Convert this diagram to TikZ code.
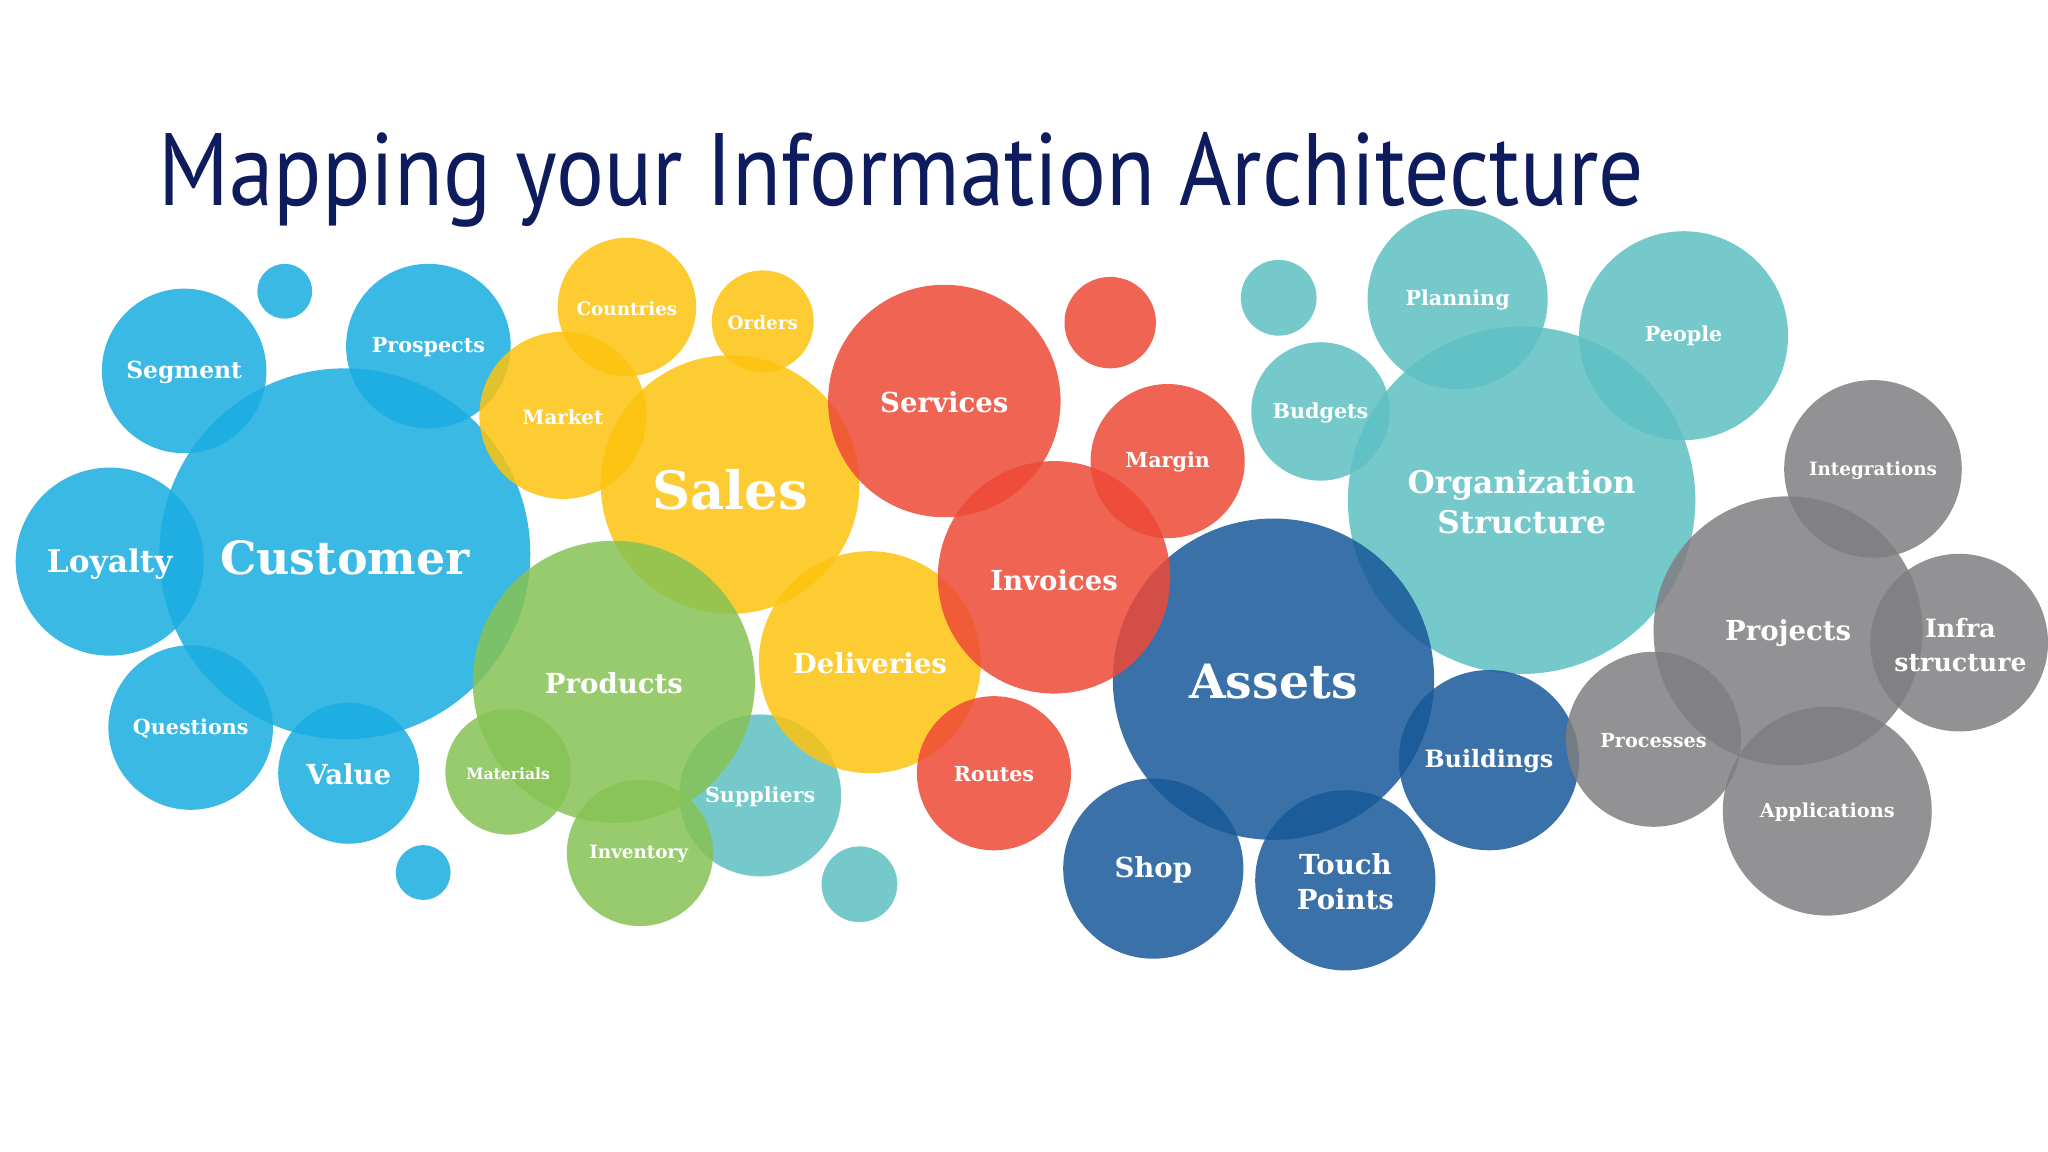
\documentclass[tikz,border=0pt]{standalone}
\usepackage{fontspec}
\usepackage{tikz}
\usepackage{xcolor}

\newfontfamily\bubfont{DejaVu Serif}
\newfontfamily\titlefont{PT Sans}[FakeStretch=0.87]

\definecolor{navy}{RGB}{14,28,94}
\definecolor{skyb}{RGB}{25,173,225}
\definecolor{sun}{RGB}{253,195,15}
\definecolor{leaf}{RGB}{134,195,85}
\definecolor{aqua}{RGB}{94,192,195}
\definecolor{coral}{RGB}{238,73,55}
\definecolor{deep}{RGB}{23,89,153}
\definecolor{slate}{RGB}{127,126,129}

\tikzset{
  bub/.style={circle, fill=#1, fill opacity=0.85, inner sep=0pt},
  rad/.style={minimum size=#1*0.2mm},
  lbl/.style={text=white, align=center, inner sep=0pt},
  fs/.style={font=\bubfont\bfseries\fontsize{#1}{#1}\selectfont}
}

\begin{document}
\begin{tikzpicture}[x=0.1mm,y=-0.1mm]
\useasboundingbox (0,0) rectangle (1568,882);
\fill[white] (0,0) rectangle (1568,882);

\node[anchor=base west, text=navy, font=\titlefont\fontsize{22.4}{24}\selectfont] (title) at (109,157) {Mapping your Information Architecture};

% customer
\node[bub=skyb, rad=21] (dotA) at (218,223) {};
\node[bub=skyb, rad=63] (seg) at (141,284) {};
\node[bub=skyb, rad=63] (pros) at (328,265) {};
\node[bub=skyb, rad=142] (cust) at (264,424) {};
\node[bub=skyb, rad=72] (loy) at (84,430) {};
\node[bub=skyb, rad=63] (ques) at (146,557) {};
\node[bub=skyb, rad=54] (val) at (267,592) {};
\node[bub=skyb, rad=21] (dotB) at (324,668) {};

% organization
\node[bub=aqua, rad=62] (supp) at (582,609) {};
\node[bub=aqua, rad=29] (dotC) at (658,677) {};
\node[bub=aqua, rad=29] (dotD) at (979,228) {};
\node[bub=aqua, rad=53] (budg) at (1011,315) {};
\node[bub=aqua, rad=69] (plan) at (1116,229) {};
\node[bub=aqua, rad=80] (peop) at (1289,257) {};
\node[bub=aqua, rad=133] (org) at (1165,383) {};

% sales
\node[bub=sun, rad=53] (coun) at (480,235) {};
\node[bub=sun, rad=39] (ord) at (584,246) {};
\node[bub=sun, rad=64] (mark) at (431,318) {};
\node[bub=sun, rad=99] (sales) at (559,371) {};
\node[bub=sun, rad=85] (deliv) at (666,507) {};

% products
\node[bub=leaf, rad=108] (prod) at (470,522) {};
\node[bub=leaf, rad=48] (mat) at (389,591) {};
\node[bub=leaf, rad=56] (inv) at (490,653) {};

% assets
\node[bub=deep, rad=123] (assets) at (975,520) {};
\node[bub=deep, rad=69] (shop) at (883,665) {};
\node[bub=deep, rad=69] (touch) at (1030,674) {};
\node[bub=deep, rad=69] (build) at (1140,582) {};

% services
\node[bub=coral, rad=89] (serv) at (723,307) {};
\node[bub=coral, rad=35] (dotE) at (850,247) {};
\node[bub=coral, rad=59] (marg) at (894,353) {};
\node[bub=coral, rad=89] (invo) at (807,442) {};
\node[bub=coral, rad=59] (rout) at (761,592) {};

% projects
\node[bub=slate, rad=68] (integ) at (1434,359) {};
\node[bub=slate, rad=103] (proj) at (1369,483) {};
\node[bub=slate, rad=68] (infra) at (1500,492) {};
\node[bub=slate, rad=67] (proc) at (1266,566) {};
\node[bub=slate, rad=80] (appl) at (1399,621) {};

% labels
\node[lbl, fs=10] (cust-t) at (264,427) {Customer};
\node[lbl, fs=5.1] (seg-t) at (141,285) {Segment};
\node[lbl, fs=4.5] (pros-t) at (328,266) {Prospects};
\node[lbl, fs=6.8] (loy-t) at (84,432) {Loyalty};
\node[lbl, fs=4.5] (ques-t) at (146,558) {Questions};
\node[lbl, fs=6] (val-t) at (267,593) {Value};

\node[lbl, fs=4] (coun-t) at (480,236) {Countries};
\node[lbl, fs=4] (ord-t) at (584,247) {Orders};
\node[lbl, fs=4.3] (mark-t) at (431,319) {Market};
\node[lbl, fs=11.5] (sales-t) at (559,375) {Sales};
\node[lbl, fs=6] (deliv-t) at (666,508) {Deliveries};

\node[lbl, fs=6] (prod-t) at (470,523) {Products};
\node[lbl, fs=3.4] (mat-t) at (389,592) {Materials};
\node[lbl, fs=4] (inv-t) at (489,654) {Inventory};
\node[lbl, fs=4.5] (supp-t) at (582,610) {Suppliers};

\node[lbl, fs=6] (serv-t) at (723,308) {Services};
\node[lbl, fs=4.5] (marg-t) at (894,354) {Margin};
\node[lbl, fs=6] (invo-t) at (807,444) {Invoices};
\node[lbl, fs=4.5] (rout-t) at (761,593) {Routes};

\node[lbl, fs=10.3] (assets-t) at (975,522) {Assets};
\node[lbl, fs=6] (shop-t) at (883,666) {Shop};
\node[lbl, font=\bubfont\bfseries\fontsize{6}{7.7}\selectfont] (touch-t) at (1030,675) {Touch\\Points};
\node[lbl, fs=5.2] (build-t) at (1140,583) {Buildings};

\node[lbl, fs=4.5] (budg-t) at (1011,316) {Budgets};
\node[lbl, fs=4.5] (plan-t) at (1116,230) {Planning};
\node[lbl, fs=4.5] (peop-t) at (1289,257) {People};
\node[lbl, font=\bubfont\bfseries\fontsize{6.8}{8.8}\selectfont] (org-t) at (1165,384) {Organization\\Structure};

\node[lbl, fs=4] (integ-t) at (1434,360) {Integrations};
\node[lbl, fs=6] (proj-t) at (1369,485) {Projects};
\node[lbl, font=\bubfont\bfseries\fontsize{5.5}{7.4}\selectfont] (infra-t) at (1501,494) {Infra\\structure};
\node[lbl, fs=4.2] (proc-t) at (1266,567) {Processes};
\node[lbl, fs=4.2] (appl-t) at (1399,622) {Applications};
\end{tikzpicture}
\end{document}
